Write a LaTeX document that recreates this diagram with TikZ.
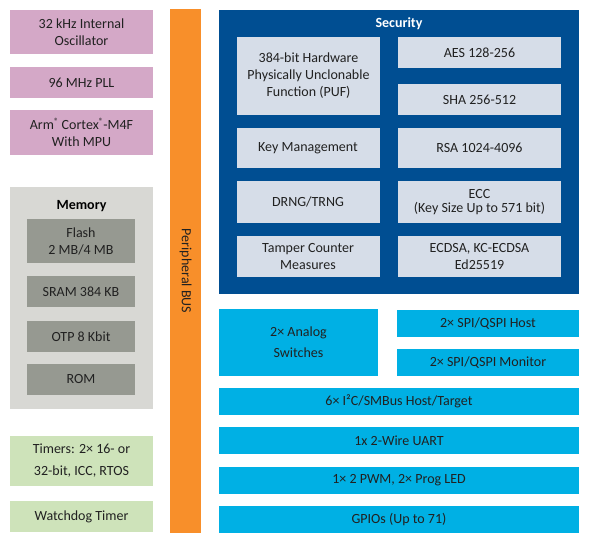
\documentclass[tikz,border=0pt]{standalone}
\usepackage{fontspec}
\setmainfont{Carlito}
\definecolor{txt}{RGB}{33,33,33}
\definecolor{pinkc}{RGB}{212,168,199}
\definecolor{memout}{RGB}{216,216,212}
\definecolor{memin}{RGB}{150,153,145}
\definecolor{busc}{RGB}{248,143,42}
\definecolor{secc}{RGB}{0,78,146}
\definecolor{secin}{RGB}{214,221,232}
\definecolor{cyanc}{RGB}{0,176,228}
\definecolor{greenc}{RGB}{206,227,186}
\newcommand{\regmark}{\raisebox{0.38em}{\fontsize{9bp}{9bp}\selectfont ®}}
\begin{document}
\begin{tikzpicture}[x=1bp,y=-1bp,
  wh/.style 2 args={minimum width=#1bp, minimum height=#2bp},
  box/.style={rectangle, inner sep=0pt, align=center, text=txt,
    font=\fontsize{14bp}{17bp}\selectfont},
  pinkbox/.style={box, fill=pinkc},
  membox/.style={box, fill=memin},
  secbox/.style={box, fill=secin},
  periph/.style={box, fill=cyanc},
  greenbox/.style={box, fill=greenc},
  title/.style={inner sep=0pt, font=\fontsize{14bp}{17bp}\selectfont\bfseries}
]
\useasboundingbox (0,0) rectangle (590,543);
% left column
\node[pinkbox, wh={143}{44}] (osc) at (81.5,32) {32 kHz Internal\\Oscillator};
\node[pinkbox, wh={143}{31}] (pll) at (81.5,82.5) {96 MHz PLL};
\node[pinkbox, wh={143}{45}] (arm) at (81.5,132.5) {Arm\regmark{} Cortex\regmark-M4F\\With MPU};
% memory
\node[box, fill=memout, wh={143}{222}] (mem) at (81.5,298) {};
\node[title, text=black] (memt) at (81.5,206) {Memory};
\node[membox, wh={108}{44}] (flash) at (81,241) {Flash\\2 MB/4 MB};
\node[membox, wh={108}{31}] (sram) at (81,291.5) {SRAM 384 KB};
\node[membox, wh={108}{31}] (otp) at (81,336.5) {OTP 8 Kbit};
\node[membox, wh={108}{31}] (rom) at (81,379.5) {ROM};
% timers
\node[greenbox, wh={143}{50}, font=\fontsize{14bp}{22bp}\selectfont] (tmr) at (81.5,461) {Timers: 2× 16- or\\32-bit, ICC, RTOS};
\node[greenbox, wh={143}{31}] (wdt) at (81.5,516.5) {Watchdog Timer};
% bus
\node[box, fill=busc, wh={524}{31}, rotate=-90] (bus) at (185.5,271) {Peripheral BUS};
% security
\node[box, fill=secc, wh={360}{284}] (sec) at (399,152) {};
\node[title, text=white] (sect) at (399,24) {Security};
\node[secbox, wh={143}{78}] (puf) at (308.5,76) {384-bit Hardware\\Physically Unclonable\\Function (PUF)};
\node[secbox, wh={163}{31}] (aes) at (479.5,52.5) {AES 128-256};
\node[secbox, wh={163}{31}] (sha) at (479.5,99.5) {SHA 256-512};
\node[secbox, wh={143}{40}] (key) at (308,148) {Key Management};
\node[secbox, wh={163}{40}] (rsa) at (479.5,148) {RSA 1024-4096};
\node[secbox, wh={143}{42}] (drng) at (308,202) {DRNG/TRNG};
\node[secbox, wh={163}{42}, font=\fontsize{14bp}{13.5bp}\selectfont] (ecc) at (479.5,202) {ECC\\(Key Size Up to 571 bit)};
\node[secbox, wh={143}{41}] (tamp) at (308,256.5) {Tamper Counter\\Measures};
\node[secbox, wh={163}{41}] (ecdsa) at (479.5,256.5) {ECDSA, KC-ECDSA\\Ed25519};
% peripherals
\node[periph, wh={159}{67}, font=\fontsize{14bp}{21bp}\selectfont] (ana) at (298.5,342.5) {2× Analog\\Switches};
\node[periph, wh={182}{27}] (spih) at (488,323.5) {2× SPI/QSPI Host};
\node[periph, wh={182}{27}] (spim) at (488,362.5) {2× SPI/QSPI Monitor};
\node[periph, wh={360}{27}] (i2c) at (399,401.5) {6× I²C/SMBus Host/Target};
\node[periph, wh={360}{27}] (uart) at (399,440.5) {1x 2-Wire UART};
\node[periph, wh={360}{27}] (pwm) at (399,480) {1× 2 PWM, 2× Prog LED};
\node[periph, wh={360}{27}] (gpio) at (399,519.5) {GPIOs (Up to 71)};
\end{tikzpicture}
\end{document}
